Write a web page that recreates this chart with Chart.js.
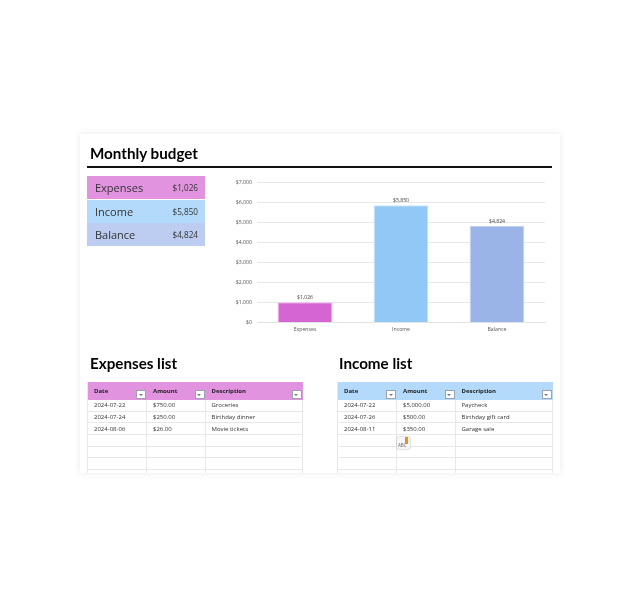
<!DOCTYPE html>
<html lang="en">
<head>
<meta charset="UTF-8">
<title>Monthly budget</title>
<script src="https://cdn.jsdelivr.net/npm/chart.js@4"></script>
<style>
    html, body { margin: 0; padding: 0; background: #fff; }
    body { width: 640px; height: 607px; position: relative; overflow: hidden; font-family: "Open Sans", Lato, sans-serif; color: #222; }
    .card { position: absolute; left: 80px; top: 134px; width: 480px; height: 339px; background: #fff; box-shadow: 0 0 7px rgba(0,0,0,0.09); overflow: hidden; filter: blur(0.35px); }
    .title { position: absolute; left: 10px; top: 9px; font-family: Lato, sans-serif; font-size: 15.2px; font-weight: 700; color: #000; line-height: 20px; white-space: nowrap; }
    .rule { position: absolute; left: 7px; top: 32px; width: 465px; height: 2px; background: #111; }
    .kpi { position: absolute; left: 7px; width: 118px; height: 23px; line-height: 24px; font-size: 11px; color: #333; }
    .kpi span { position: absolute; left: 8px; }
    .kpi b { position: absolute; right: 7px; font-weight: 400; font-size: 8.2px; }
    .chart-box { position: absolute; left: 145px; top: 40px; width: 325px; height: 163px; }
    table { position: absolute; top: 248px; width: 215px; table-layout: fixed; border-collapse: separate; border-spacing: 0; font-size: 6px; color: #333; border-left: 1px solid #e8e8e8; box-sizing: border-box; }
    th { height: 18px; padding: 0 0 0 6px; text-align: left; font-size: 6px; font-weight: 700; color: #222; position: relative; box-sizing: border-box; }
    td { height: 11.7px; padding: 0 0 0 6px; border-right: 1px solid #e8e8e8; border-bottom: 1px solid #e8e8e8; overflow: hidden; white-space: nowrap; line-height: 10px; box-sizing: border-box; }
    th i { position: absolute; right: 1px; bottom: 1px; width: 10px; height: 9px; background: #fff; border: 1px solid #9aa3ad; box-sizing: border-box; }
    th i:after { content: ""; position: absolute; left: 1.5px; top: 3px; border: 2.5px solid transparent; border-top: 2.5px solid #777; }
    .abc { position: absolute; left: 317px; top: 303px; width: 13px; height: 12px; background: #f6f6f6; border-radius: 2px; box-shadow: 0 0 2px #999; font-size: 4.5px; color: #666; line-height: 17px; padding-left: 1px; box-sizing: border-box; }
    .abc:after { content: ""; position: absolute; right: 2px; top: 0; width: 3px; height: 7px; background: #f08a24; }
</style>
</head>
<body>
<div class="card">
    <div class="title">Monthly budget</div>
    <div class="rule"></div>
    <div id="kpis"></div>
    <div class="chart-box"><canvas id="budgetChart"></canvas></div>
    <div class="title" style="left:10px;top:219px">Expenses list</div>
    <div class="title" style="left:259px;top:219px">Income list</div>
    <table id="expensesTable" style="left:7px"></table>
    <table id="incomeTable" style="left:257px"></table>
    <div class="abc">ABC</div>
</div>

<script>
    const categories = ['Expenses', 'Income', 'Balance'];
    const totals = [1026, 5850, 4824];
    const barColors = ['#d665d4', '#92c8f6', '#9bb4e8'];
    const barEdges = ['#efb4ec', '#c4e2fb', '#c6d4f4'];
    const kpiColors = ['#e293e0', '#b3dafa', '#bccdf1'];
    const tableColumns = ['Date', 'Amount', 'Description'];
    const expenseRows = [
        ['2024-07-22', '$750.00', 'Groceries'],
        ['2024-07-24', '$250.00', 'Birthday dinner'],
        ['2024-08-06', '$26.00', 'Movie tickets']
    ];
    const incomeRows = [
        ['2024-07-22', '$5,000.00', 'Paycheck'],
        ['2024-07-26', '$500.00', 'Birthday gift card'],
        ['2024-08-11', '$350.00', 'Garage sale']
    ];
    const money = v => '$' + v.toLocaleString('en-US');

    // summary boxes
    document.getElementById('kpis').innerHTML = categories.map((c, i) =>
        `<div class="kpi" style="top:${42 + i * 23.7}px;background:${kpiColors[i]}"><span>${c}</span><b>${money(totals[i])}</b></div>`
    ).join('');

    function fillTable(id, rows, color) {
        const widths = [59, 58.5, 97];
        let html = '<colgroup>' + widths.map(w => `<col style="width:${w}px">`).join('') + '</colgroup>';
        html += `<tr style="background:${color}">` + tableColumns.map(c => `<th>${c}<i></i></th>`).join('') + '</tr>';
        for (let r = 0; r < 7; r++) {
            const row = rows[r] || ['', '', ''];
            html += '<tr>' + row.map(v => `<td>${v}</td>`).join('') + '</tr>';
        }
        document.getElementById(id).innerHTML = html;
    }
    fillTable('expensesTable', expenseRows, kpiColors[0]);
    fillTable('incomeTable', incomeRows, kpiColors[1]);

    // value labels above the bars
    const barLabels = {
        id: 'barLabels',
        afterDatasetsDraw(chart) {
            const ctx = chart.ctx;
            ctx.save();
            ctx.font = '5.2px "Open Sans"';
            ctx.fillStyle = '#444';
            ctx.textAlign = 'center';
            ctx.textBaseline = 'bottom';
            chart.getDatasetMeta(0).data.forEach((bar, i) => {
                ctx.fillText(money(totals[i]), bar.x, bar.y - 2);
            });
            ctx.restore();
        }
    };

    new Chart(document.getElementById('budgetChart'), {
        type: 'bar',
        data: {
            labels: categories,
            datasets: [{
                data: totals,
                backgroundColor: barColors,
                borderColor: barEdges,
                borderWidth: 1,
                barPercentage: 0.57,
                categoryPercentage: 1
            }]
        },
        options: {
            responsive: true,
            maintainAspectRatio: false,
            animation: false,
            layout: { padding: { left: 2, right: 5, top: 3, bottom: 0 } },
            plugins: { legend: { display: false }, tooltip: { enabled: false } },
            scales: {
                x: {
                    grid: { display: false, drawTicks: false },
                    border: { color: '#e4e4e4' },
                    ticks: { color: '#555', font: { size: 5.2, family: 'Open Sans' }, padding: 4 }
                },
                y: {
                    min: 0,
                    max: 7000,
                    grid: { color: '#e8e8e8', drawTicks: false },
                    border: { display: false },
                    afterFit(scale) { scale.width = 30; },
                    ticks: { stepSize: 1000, color: '#555', padding: 5, font: { size: 5.2, family: 'Open Sans' }, callback: money }
                }
            }
        },
        plugins: [barLabels]
    });
</script>
</body>
</html>
